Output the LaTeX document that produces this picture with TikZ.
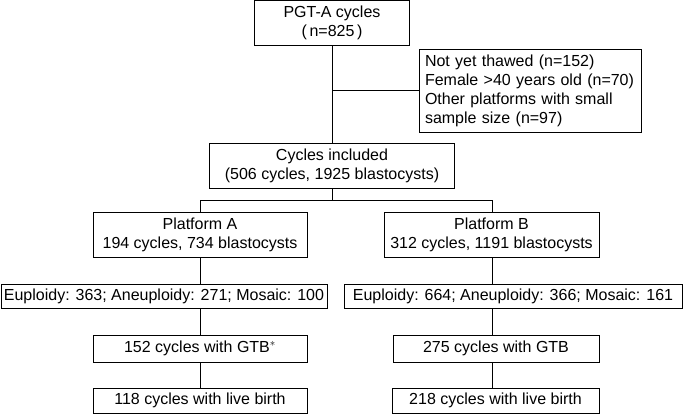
\documentclass[tikz,border=0pt]{standalone}
\usepackage{fontspec}
\setmainfont{Liberation Sans}
\begin{document}
\begin{tikzpicture}[x=1pt,y=-1pt,thin,
		box/.style = {draw, inner sep = 0pt, align=center, font=\fontsize{16}{19}\selectfont}]
		\useasboundingbox (0,0) rectangle (685,417);
		
		\node[box,minimum width=155,minimum height=45] (top) at (332,22.5) {PGT-A cycles\\(\,n=825\,)};
		\node[box,minimum width=222,minimum height=83,align=left,text width=210] (excl) at (530,90.5) {Not yet thawed (n=152)\\Female >40 years old (n=70)\\Other platforms with small\\sample size (n=97)};
		\node[box,minimum width=245,minimum height=45] (incl) at (332,165.5) {Cycles included\\(506 cycles, 1925 blastocysts)};
		\node[box,minimum width=214,minimum height=45] (pa) at (200,234.5) {Platform A\\194 cycles, 734 blastocysts};
		\node[box,minimum width=215,minimum height=45] (pb) at (491.5,234.5) {Platform B\\312 cycles, 1191 blastocysts};
		\node[box,minimum width=326,minimum height=24] (ea) at (164,296.5) {Euploidy: 363; Aneuploidy: 271; Mosaic: 100};
		\node[box,minimum width=338,minimum height=24] (eb) at (513,296.5) {Euploidy: 664; Aneuploidy: 366; Mosaic: 161};
		\node[box,minimum width=214,minimum height=27] (ga) at (200,348.5) {152 cycles with GTB$^{*}$};
		\node[box,minimum width=206,minimum height=27] (gb) at (496,348.5) {275 cycles with GTB};
		\node[box,minimum width=214,minimum height=25] (la) at (200,400.5) {118 cycles with live birth};
		\node[box,minimum width=207,minimum height=25] (lb) at (495.5,400.5) {218 cycles with live birth};
		
		\coordinate (split) at (332,200);
		\coordinate (lineb) at (492,0);
		\path[draw]
		(top) -- (incl)
		(excl.west) -- (excl.west -| top)
		(incl) -- (split)
		(split -| pa) -- (split -| lineb)
		(split -| pa) -- (pa)
		(split -| lineb) -- (lineb |- pb.north)
		(pa) -- (pa |- ea.north)
		(lineb |- pb.south) -- (lineb |- eb.north)
		(pa |- ea.south) -- (ga)
		(lineb |- eb.south) -- (lineb |- gb.north)
		(ga) -- (la)
		(lineb |- gb.south) -- (lineb |- lb.north);
\end{tikzpicture}
\end{document}
